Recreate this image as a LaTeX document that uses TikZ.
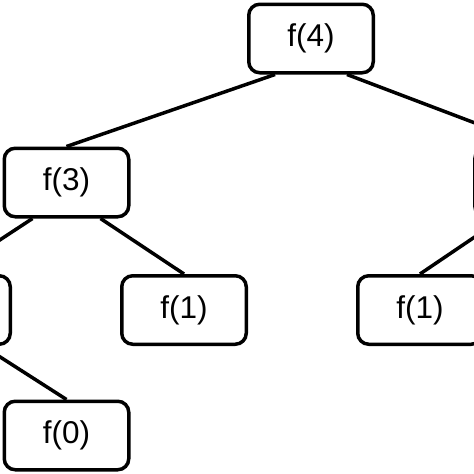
\documentclass[tikz,border=0pt]{standalone}
\usepackage{fontspec}
\setmainfont{Liberation Sans}
\usepackage{tikz}
\usetikzlibrary{positioning}

\begin{document}
\begin{tikzpicture}
            [x=1pt,y=-1pt,line width=3.5pt,every node/.style={draw, rectangle, rounded corners=11pt, minimum width=124.5pt, minimum height=68.5pt, inner sep=0pt, font=\fontsize{31.5}{36}\selectfont}]
          \useasboundingbox (0,0) rectangle (474,474);
          \clip (0,0) rectangle (474,474);

          \node (f4) at (311,38.5) {f(4)};
          \node (f3) at (66.5,182.5) {f(3)};
          \node (f2l) at (-52,310) {};
          \node (f1m) at (184,310) {f(1)};
          \node (f2r) at (537,182.5) {};
          \node (f1r) at (420,310) {f(1)};
          \node (f0) at (66.5,435.5) {f(0)};

          \foreach \from/\to/\shift in {f4/f3/-36, f4/f2r/36, f3/f2l/-34, f3/f1m/34, f2l/f0/35, f2r/f1r/-35}
            \draw ([xshift=\shift pt]\from.south) -- (\to.north);
        \end{tikzpicture}
\end{document}
